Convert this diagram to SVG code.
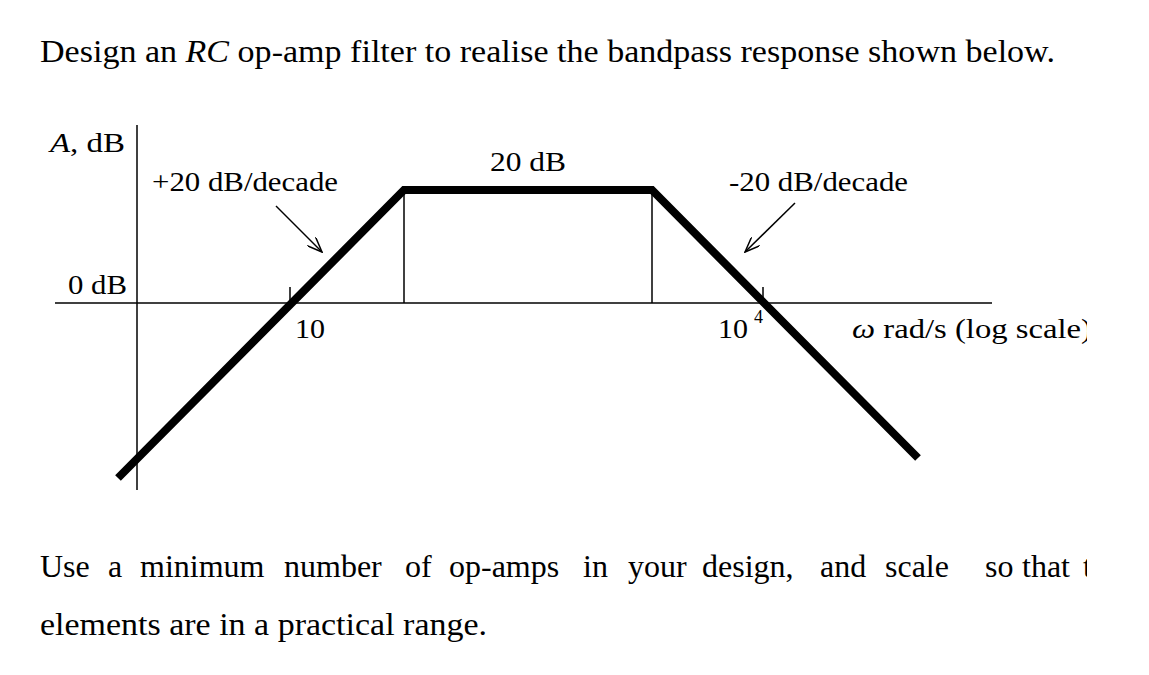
<svg xmlns="http://www.w3.org/2000/svg" width="1149" height="675" viewBox="0 0 1149 675">
<style>
text{font-family:"Liberation Serif","Times New Roman",serif;fill:#000}
.t{font-size:32px}
.l{font-size:28px}
.thin{stroke:#000;stroke-width:1.5;fill:none}
.thick{stroke:#000;stroke-width:8;fill:none;stroke-linejoin:miter}
</style>
<defs>
<marker id="oa" markerWidth="16" markerHeight="12" refX="15" refY="6" orient="auto" markerUnits="userSpaceOnUse">
<path d="M0,0 L15,6 L0,12" fill="none" stroke="#000" stroke-width="1.5"/>
</marker>
<clipPath id="c"><rect x="0" y="0" width="1087" height="675"/></clipPath>
</defs>
<rect width="1149" height="675" fill="#fff"/>
<text class="t" x="40" y="62" textLength="1015" lengthAdjust="spacingAndGlyphs">Design an <tspan font-style="italic">RC</tspan> op-amp filter to realise the bandpass response shown below.</text>
<g id="axes">
<line class="thin" x1="55" y1="303" x2="992" y2="303"/>
<line class="thin" x1="137" y1="125" x2="137" y2="490"/>
<line class="thin" x1="290" y1="287" x2="290" y2="303"/>
<line class="thin" x1="763" y1="287" x2="763" y2="303"/>
<line class="thin" x1="404" y1="190" x2="404" y2="303"/>
<line class="thin" x1="652" y1="190" x2="652" y2="303"/>
</g>
<g id="response">
<polyline class="thick" points="118,478 404,190 652,190 918,458"/>
</g>
<g id="connectors">
<line class="thin" x1="276" y1="206" x2="322" y2="252" marker-end="url(#oa)"/>
<line class="thin" x1="795" y1="203" x2="745" y2="252" marker-end="url(#oa)"/>
</g>
<g id="labels">
<text class="l" x="50" y="152" textLength="75" lengthAdjust="spacingAndGlyphs"><tspan font-style="italic">A</tspan>, dB</text>
<text class="l" x="68" y="294" textLength="59" lengthAdjust="spacingAndGlyphs">0 dB</text>
<text class="l" x="152" y="191" textLength="186" lengthAdjust="spacingAndGlyphs">+20 dB/decade</text>
<text class="l" x="490" y="171" textLength="76" lengthAdjust="spacingAndGlyphs">20 dB</text>
<text class="l" x="729" y="191" textLength="179" lengthAdjust="spacingAndGlyphs">-20 dB/decade</text>
<text class="l" x="295" y="338" textLength="30" lengthAdjust="spacingAndGlyphs">10</text>
<text class="l" x="718" y="338" textLength="30" lengthAdjust="spacingAndGlyphs">10</text>
<text x="754" y="323" font-size="18">4</text>
<g clip-path="url(#c)"><text class="l" x="852" y="338" textLength="240" lengthAdjust="spacingAndGlyphs"><tspan font-style="italic">ω</tspan> rad/s (log scale)</text></g>
</g>
<g clip-path="url(#c)">
<text class="t" y="577"><tspan x="40">Use</tspan><tspan x="108">a</tspan><tspan x="140">minimum</tspan><tspan x="284">number</tspan><tspan x="405">of</tspan><tspan x="449">op-amps</tspan><tspan x="583">in</tspan><tspan x="628">your</tspan><tspan x="702">design,</tspan><tspan x="820">and</tspan><tspan x="885">scale</tspan><tspan x="985">so</tspan><tspan x="1022">that</tspan><tspan x="1083">t</tspan></text>
</g>
<text class="t" x="40" y="635" textLength="447" lengthAdjust="spacingAndGlyphs">elements are in a practical range.</text>
</svg>
